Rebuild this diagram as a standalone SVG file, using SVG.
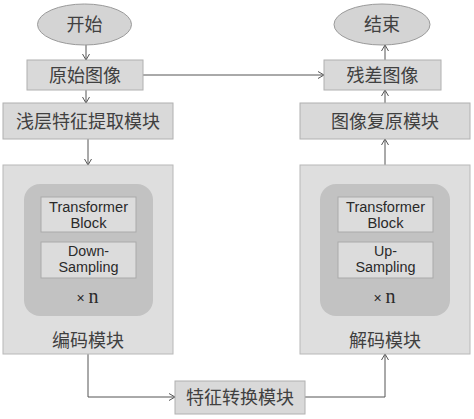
<svg xmlns="http://www.w3.org/2000/svg" width="474" height="419" viewBox="0 0 474 419">
<defs>
<marker id="arr" markerWidth="10" markerHeight="10" refX="8" refY="5" orient="auto" markerUnits="userSpaceOnUse">
<path d="M2,1.5 L8,5 L2,8.5" fill="none" stroke="#555" stroke-width="1"/>
</marker>
</defs>
<style>
.box{fill:#d9d9d9;stroke:#b0b0b0;stroke-width:1}
.big{fill:#dedede;stroke:#b8b8b8;stroke-width:1}
.inner{fill:#c2c2c2;stroke:none}
.sub{fill:#dcdcdc;stroke:#aaaaaa;stroke-width:1}
.ell{fill:#d4d4d4;stroke:#9a9a9a;stroke-width:1}
.zh{font-family:"Liberation Serif","Noto Sans CJK SC",serif;font-size:18px;fill:#404040;text-anchor:middle}
.en{font-family:"Liberation Sans",Arial,sans-serif;font-size:15.5px;fill:#2a2a2a;text-anchor:middle}
.ln{fill:none;stroke:#555;stroke-width:1}
</style>
<rect width="474" height="419" fill="#ffffff"/>
<g id="connectors">
<line class="ln" x1="86" y1="45" x2="86" y2="60" marker-end="url(#arr)"/>
<line class="ln" x1="86" y1="90" x2="86" y2="103" marker-end="url(#arr)"/>
<line class="ln" x1="88" y1="139" x2="88" y2="165" marker-end="url(#arr)"/>
<line class="ln" x1="143" y1="75" x2="324" y2="75" marker-end="url(#arr)"/>
<polyline class="ln" points="88,354 88,397 175,397" marker-end="url(#arr)"/>
<polyline class="ln" points="305,397 385,397 385,354" marker-end="url(#arr)"/>
<line class="ln" x1="385" y1="165" x2="385" y2="139" marker-end="url(#arr)"/>
<line class="ln" x1="385" y1="103" x2="385" y2="90" marker-end="url(#arr)"/>
<line class="ln" x1="385" y1="60" x2="385" y2="45" marker-end="url(#arr)"/>
</g>
<g id="start">
<ellipse class="ell" cx="84.5" cy="24.5" rx="47" ry="20.5"/>
<text class="zh" x="84.5" y="31">开始</text>
</g>
<g id="end">
<ellipse class="ell" cx="382" cy="24.5" rx="48" ry="20.5"/>
<text class="zh" x="382" y="31">结束</text>
</g>
<g id="original">
<rect class="box" x="27" y="60" width="116" height="30"/>
<text class="zh" x="85" y="82">原始图像</text>
</g>
<g id="residual">
<rect class="box" x="324" y="60" width="117" height="30"/>
<text class="zh" x="382.5" y="82">残差图像</text>
</g>
<g id="shallow">
<rect class="box" x="3" y="103" width="170" height="36"/>
<text class="zh" x="88" y="128">浅层特征提取模块</text>
</g>
<g id="restore">
<rect class="box" x="300" y="103" width="170" height="36"/>
<text class="zh" x="385" y="128">图像复原模块</text>
</g>
<g id="encoder">
<rect class="big" x="3" y="165" width="170" height="189"/>
<rect class="inner" x="24" y="184" width="129" height="132" rx="16"/>
<rect class="sub" x="41" y="197" width="95" height="35"/>
<text class="en" x="88.5" y="212" textLength="79" lengthAdjust="spacingAndGlyphs">Transformer</text>
<text class="en" x="88.5" y="228" textLength="36" lengthAdjust="spacingAndGlyphs">Block</text>
<rect class="sub" x="41" y="242" width="95" height="36"/>
<text class="en" x="88.5" y="256" textLength="41" lengthAdjust="spacingAndGlyphs">Down-</text>
<text class="en" x="88.5" y="272" textLength="60" lengthAdjust="spacingAndGlyphs">Sampling</text>
<text x="87.5" y="303" text-anchor="middle" fill="#2a2a2a"><tspan font-family="Liberation Sans,sans-serif" font-size="14">× </tspan><tspan font-family="Liberation Serif,serif" font-size="20">n</tspan></text>
<text class="zh" x="88" y="347">编码模块</text>
</g>
<g id="decoder">
<rect class="big" x="300" y="165" width="170" height="189"/>
<rect class="inner" x="320" y="184" width="130" height="132" rx="16"/>
<rect class="sub" x="338" y="197" width="95" height="35"/>
<text class="en" x="385.5" y="212" textLength="79" lengthAdjust="spacingAndGlyphs">Transformer</text>
<text class="en" x="385.5" y="228" textLength="36" lengthAdjust="spacingAndGlyphs">Block</text>
<rect class="sub" x="338" y="242" width="95" height="36"/>
<text class="en" x="385.5" y="256" textLength="23" lengthAdjust="spacingAndGlyphs">Up-</text>
<text class="en" x="385.5" y="272" textLength="60" lengthAdjust="spacingAndGlyphs">Sampling</text>
<text x="384.5" y="303" text-anchor="middle" fill="#2a2a2a"><tspan font-family="Liberation Sans,sans-serif" font-size="14">× </tspan><tspan font-family="Liberation Serif,serif" font-size="20">n</tspan></text>
<text class="zh" x="385" y="347">解码模块</text>
</g>
<g id="transform">
<rect class="box" x="175" y="381" width="130" height="33"/>
<text class="zh" x="240" y="404">特征转换模块</text>
</g>
</svg>
